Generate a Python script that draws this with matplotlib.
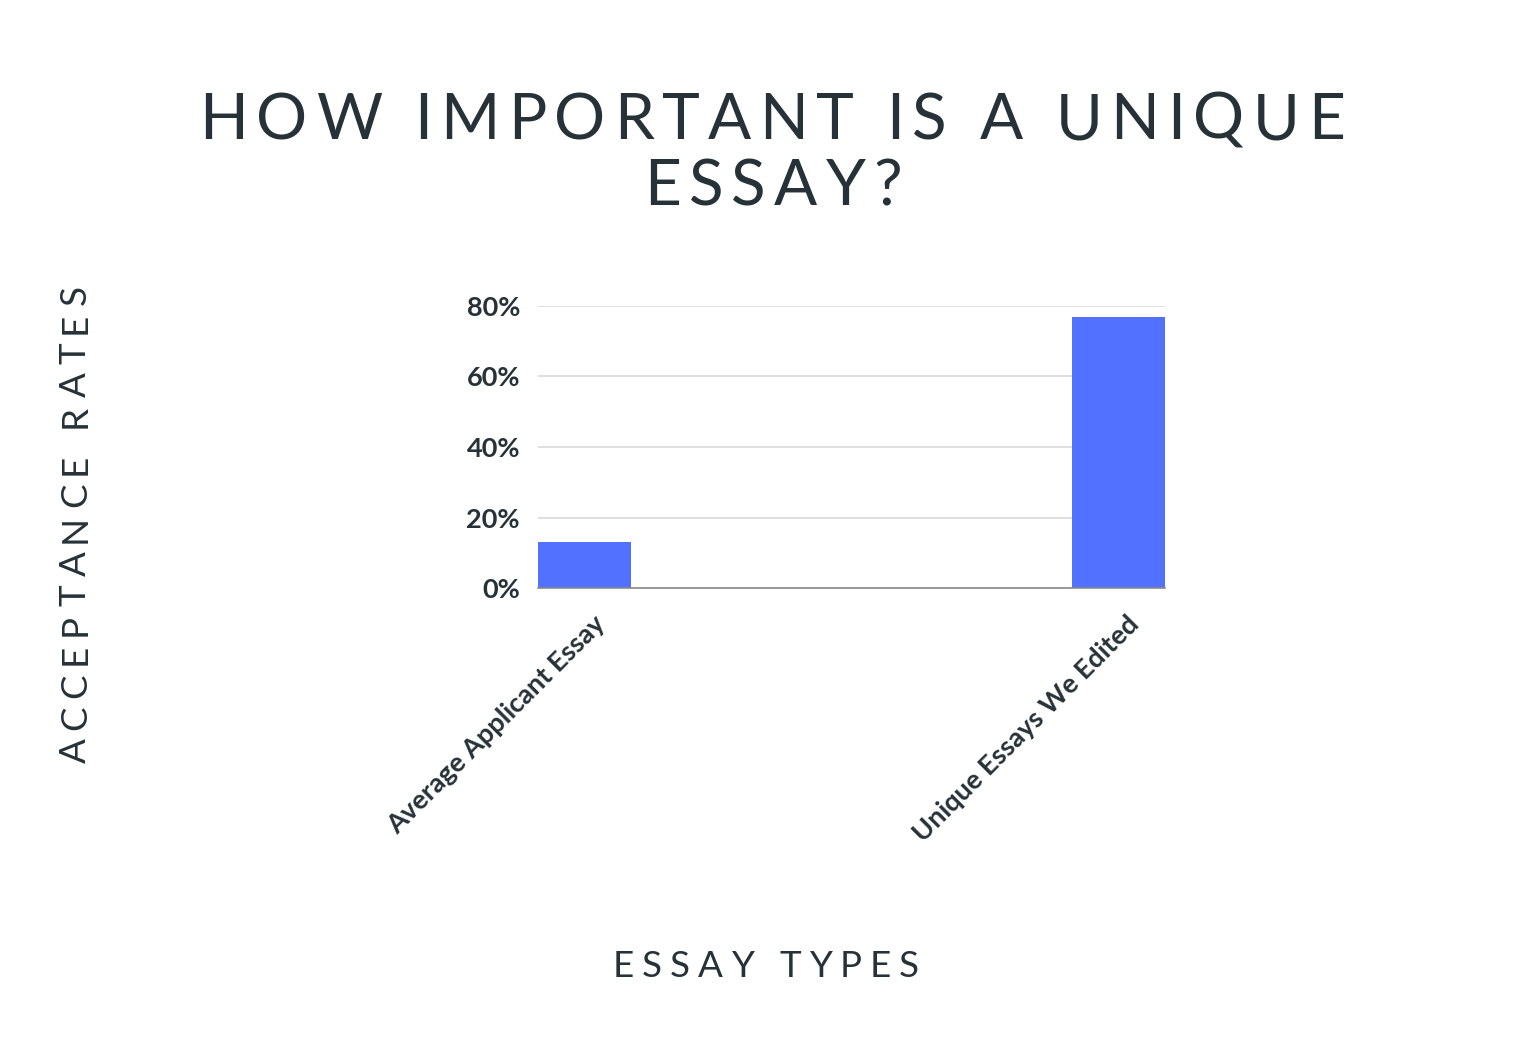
import matplotlib
matplotlib.use("Agg")
import matplotlib.pyplot as plt
from matplotlib.ticker import FuncFormatter
import matplotlib.transforms as mtransforms

plt.rcParams["font.family"] = ["Lato", "DejaVu Sans"]

# data
categories = ["Average Applicant Essay", "Unique Essays We Edited"]
acceptance = [13, 77]
y_ticks = [0, 20, 40, 60, 80]

TEXT = "#263238"
BAR = "#5271ff"
W, H = 1536, 1049

fig = plt.figure(figsize=(W / 100, H / 100), dpi=100)
ax = fig.add_axes([538 / W, 1 - 588 / H, 627 / W, 282 / H])

width = 0.174
x = range(len(categories))
ax.bar(x, acceptance, width, color=BAR, zorder=3)
ax.set_xlim(-width / 2, 1 + width / 2)
ax.set_ylim(0, 80)
ax.set_yticks(y_ticks)
ax.yaxis.set_major_formatter(FuncFormatter(lambda v, _: f"{v:.0f}%"))
ax.grid(axis="y", color="#d9d9d9", lw=1.2, zorder=0)
for side in ("top", "right", "left"):
    ax.spines[side].set_visible(False)
ax.spines["bottom"].set_color("#8a8a8a")
ax.spines["bottom"].set_linewidth(1.2)
ax.spines["bottom"].set_zorder(4)
ax.tick_params(axis="both", length=0, colors=TEXT)
ax.tick_params(axis="y", pad=13)
for lab in ax.get_yticklabels():
    lab.set_fontsize(19.5)
    lab.set_fontweight("bold")
    lab.set_color(TEXT)

ax.set_xticks(list(x))
ax.set_xticklabels(categories, rotation=45, ha="right", rotation_mode="anchor",
                   fontsize=19.5, fontweight="bold", color=TEXT)
shift = mtransforms.ScaledTranslation(0.08, -0.19, fig.dpi_scale_trans)
for lab in ax.get_xticklabels():
    lab.set_transform(lab.get_transform() + shift)

renderer = fig.canvas.get_renderer()


def _width(s, size):
    t = fig.text(0, 0, s, fontsize=size)
    w = t.get_window_extent(renderer).width
    t.remove()
    return w


def spaced_text(s, cx, cy, size, track, vertical=False):
    """letter-spaced text centred on pixel (cx, cy); cy is the baseline"""
    ref = _width("H", size)
    starts = [0.0] + [_width(s[:i] + "H", size) - ref + i * track for i in range(1, len(s))]
    total = _width(s, size) + (len(s) - 1) * track
    for ch, off in zip(s, starts):
        if ch == " ":
            continue
        if vertical:
            px, py = cx, cy + off - total / 2
            fig.text(px / W, py / H, ch, fontsize=size, color=TEXT, rotation=90,
                     rotation_mode="anchor", ha="left", va="baseline")
        else:
            px, py = cx + off - total / 2, cy
            fig.text(px / W, 1 - py / H, ch, fontsize=size, color=TEXT,
                     ha="left", va="baseline")


spaced_text("HOW IMPORTANT IS A UNIQUE", 772, 139, 46, 8.1)
spaced_text("ESSAY?", 773, 205, 46, 8.1)
spaced_text("ESSAY TYPES", 766, 977, 26.5, 8.0)
spaced_text("ACCEPTANCE RATES", 86, 1049 - 524, 26.5, 8.0, vertical=True)

fig.savefig("out.png", dpi=100, facecolor="white")
